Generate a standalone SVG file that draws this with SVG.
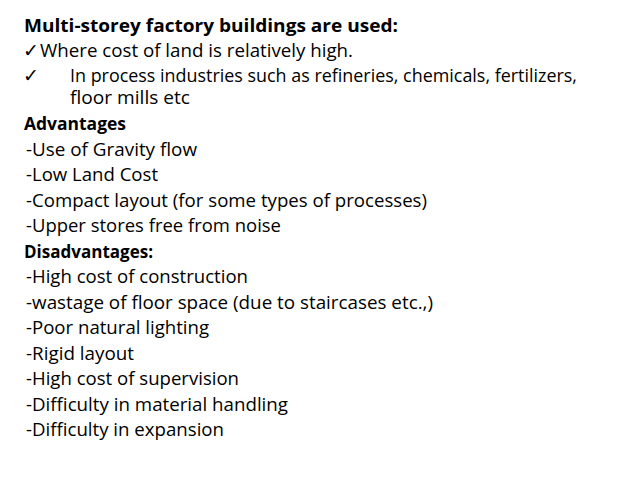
<svg xmlns="http://www.w3.org/2000/svg" width="638" height="478" viewBox="0 0 638 478">
<style>
text{font-family:"Open Sans","Liberation Sans",sans-serif;font-size:17.5px;fill:#000}
.b{font-weight:bold}
.c{font-family:"DejaVu Sans",sans-serif;font-size:19px;font-weight:bold}
</style>
<rect width="638" height="478" fill="#fff"/>
<text class="b" x="24" y="32" textLength="374" lengthAdjust="spacingAndGlyphs">Multi-storey factory buildings are used:</text>
<text class="c" x="23" y="57">✓</text>
<text x="40" y="57" textLength="313" lengthAdjust="spacingAndGlyphs">Where cost of land is relatively high.</text>
<text class="c" x="23" y="82">✓</text>
<text x="70" y="82" textLength="507" lengthAdjust="spacingAndGlyphs">In process industries such as refineries, chemicals, fertilizers,</text>
<text x="70" y="104" textLength="120" lengthAdjust="spacingAndGlyphs">floor mills etc</text>
<text class="b" x="24" y="130" textLength="102" lengthAdjust="spacingAndGlyphs">Advantages</text>
<text x="26" y="156" textLength="171" lengthAdjust="spacingAndGlyphs">-Use of Gravity flow</text>
<text x="26" y="181" textLength="132" lengthAdjust="spacingAndGlyphs">-Low Land Cost</text>
<text x="26" y="207" textLength="401" lengthAdjust="spacingAndGlyphs">-Compact layout (for some types of processes)</text>
<text x="26" y="232" textLength="255" lengthAdjust="spacingAndGlyphs">-Upper stores free from noise</text>
<text class="b" x="24" y="258" textLength="129" lengthAdjust="spacingAndGlyphs">Disadvantages:</text>
<text x="26" y="283" textLength="222" lengthAdjust="spacingAndGlyphs">-High cost of construction</text>
<text x="26" y="309" textLength="407" lengthAdjust="spacingAndGlyphs">-wastage of floor space (due to staircases etc.,)</text>
<text x="26" y="334" textLength="183" lengthAdjust="spacingAndGlyphs">-Poor natural lighting</text>
<text x="26" y="360" textLength="108" lengthAdjust="spacingAndGlyphs">-Rigid layout</text>
<text x="26" y="385" textLength="213" lengthAdjust="spacingAndGlyphs">-High cost of supervision</text>
<text x="26" y="411" textLength="262" lengthAdjust="spacingAndGlyphs">-Difficulty in material handling</text>
<text x="26" y="436" textLength="198" lengthAdjust="spacingAndGlyphs">-Difficulty in expansion</text>
</svg>
